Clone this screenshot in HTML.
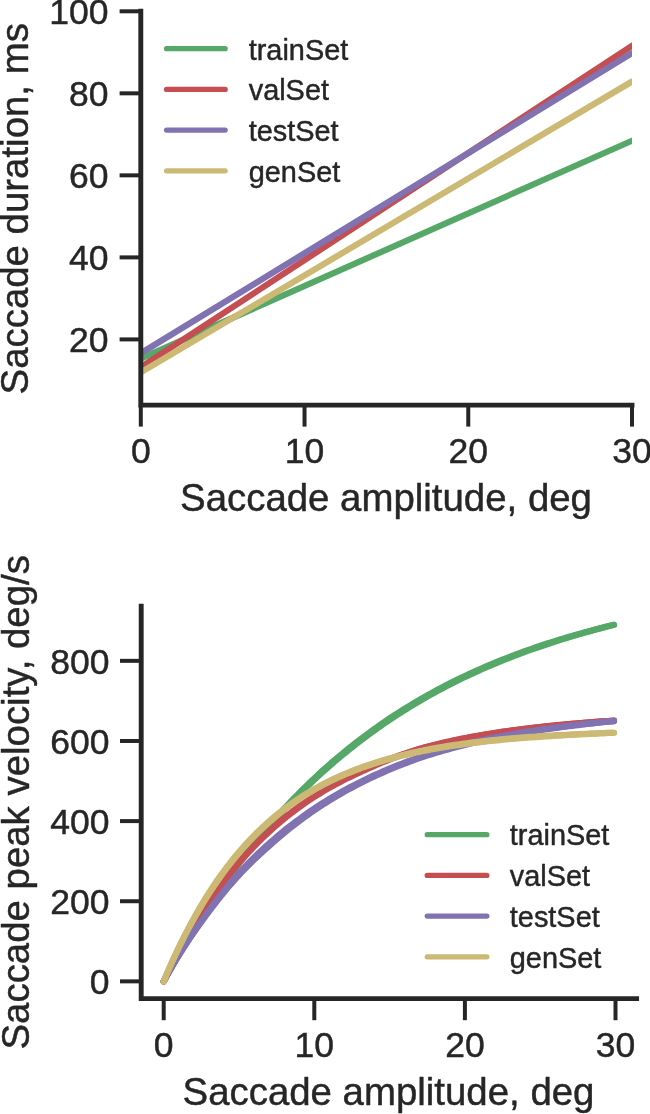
<!DOCTYPE html>
<html lang="en"><head><meta charset="utf-8"><title>Saccade main sequence</title>
<style>html,body{margin:0;padding:0;background:#fff}body{width:650px;height:1114px;overflow:hidden}svg{display:block}text{font-family:"Liberation Sans", sans-serif;fill:#262626;stroke:#262626;stroke-width:0.45px;stroke-linejoin:round}</style>
</head><body>
<svg width="650" height="1114" viewBox="0 0 650 1114">
<rect width="650" height="1114" fill="#fff"/>
<defs><clipPath id="c1"><rect x="140.80" y="11.30" width="491.20" height="393.80"/></clipPath></defs>
<g clip-path="url(#c1)" fill="none" stroke-width="6.20" stroke-linecap="round">
<path d="M140.80 358.62L632.00 140.71" stroke="#55A868"/>
<path d="M140.80 367.20L632.00 45.83" stroke="#C44E52"/>
<path d="M140.80 353.26L632.00 53.14" stroke="#8172B2"/>
<path d="M140.80 372.36L632.00 81.54" stroke="#CCB974"/>
</g>
<g fill="none" stroke="#262626" stroke-linecap="square">
<path d="M140.80 11.30V405.10H632.00" stroke-width="4.90" stroke-linejoin="miter"/>
</g>
<g fill="none" stroke="#262626" stroke-width="4.00" stroke-linecap="butt">
<path d="M119.60 339.40H140.80"/>
<path d="M119.60 257.38H140.80"/>
<path d="M119.60 175.35H140.80"/>
<path d="M119.60 93.33H140.80"/>
<path d="M119.60 11.30H140.80"/>
<path d="M140.80 405.10V426.60"/>
<path d="M304.53 405.10V426.60"/>
<path d="M468.27 405.10V426.60"/>
<path d="M632.00 405.10V426.60"/>
</g>
<g font-size="35.50" text-anchor="end">
<text x="108.6" y="352.10">20</text>
<text x="108.6" y="270.07">40</text>
<text x="108.6" y="188.05">60</text>
<text x="108.6" y="106.03">80</text>
<text x="108.6" y="24.00">100</text>
</g>
<g font-size="35.50" text-anchor="middle">
<text x="140.80" y="462.9">0</text>
<text x="304.53" y="462.9">10</text>
<text x="468.27" y="462.9">20</text>
<text x="632.00" y="462.9">30</text>
</g>
<text font-size="38.40" text-anchor="middle" x="386.0" y="511.4">Saccade amplitude, deg</text>
<text font-size="38.40" text-anchor="middle" transform="translate(28.3 208.8) rotate(-90)">Saccade duration, ms</text>
<g fill="none" stroke-width="5.30" stroke-linecap="round">
<path d="M166.55 48.70H225.15" stroke="#55A868"/>
<path d="M166.55 89.40H225.15" stroke="#C44E52"/>
<path d="M166.55 130.10H225.15" stroke="#8172B2"/>
<path d="M166.55 170.80H225.15" stroke="#CCB974"/>
</g>
<g font-size="28.90">
<text x="248.70" y="59.70">trainSet</text>
<text x="248.70" y="100.40">valSet</text>
<text x="248.70" y="141.10">testSet</text>
<text x="248.70" y="181.80">genSet</text>
</g>
<g fill="none" stroke-width="6.20" stroke-linecap="round" stroke-linejoin="round">
<path d="M163.70 981.35L166.70 975.79L169.70 970.31L172.71 964.90L175.71 959.57L178.71 954.31L181.71 949.11L184.71 943.99L187.72 938.94L190.72 933.96L193.72 929.05L196.72 924.20L199.72 919.42L202.73 914.70L205.73 910.05L208.73 905.46L211.73 900.93L214.73 896.47L217.74 892.06L220.74 887.72L223.74 883.43L226.74 879.21L229.74 875.04L232.75 870.92L235.75 866.87L238.75 862.86L241.75 858.92L244.75 855.02L247.75 851.18L250.76 847.39L253.76 843.65L256.76 839.97L259.76 836.33L262.76 832.74L265.77 829.20L268.77 825.71L271.77 822.27L274.77 818.87L277.77 815.52L280.78 812.22L283.78 808.96L286.78 805.74L289.78 802.57L292.78 799.44L295.79 796.36L298.79 793.31L301.79 790.31L304.79 787.35L307.79 784.42L310.80 781.54L313.80 778.70L316.80 775.89L319.80 773.13L322.80 770.40L325.81 767.71L328.81 765.05L331.81 762.43L334.81 759.85L337.81 757.30L340.82 754.79L343.82 752.31L346.82 749.86L349.82 747.45L352.82 745.07L355.83 742.72L358.83 740.41L361.83 738.12L364.83 735.87L367.83 733.65L370.84 731.46L373.84 729.29L376.84 727.16L379.84 725.06L382.84 722.98L385.85 720.93L388.85 718.91L391.85 716.92L394.85 714.96L397.85 713.02L400.85 711.11L403.86 709.22L406.86 707.36L409.86 705.53L412.86 703.72L415.86 701.93L418.87 700.17L421.87 698.43L424.87 696.72L427.87 695.03L430.87 693.36L433.88 691.72L436.88 690.09L439.88 688.49L442.88 686.91L445.88 685.36L448.89 683.82L451.89 682.31L454.89 680.81L457.89 679.34L460.89 677.88L463.90 676.45L466.90 675.03L469.90 673.64L472.90 672.26L475.90 670.90L478.91 669.56L481.91 668.24L484.91 666.94L487.91 665.65L490.91 664.38L493.92 663.13L496.92 661.90L499.92 660.68L502.92 659.48L505.92 658.30L508.93 657.13L511.93 655.98L514.93 654.84L517.93 653.72L520.93 652.61L523.94 651.52L526.94 650.44L529.94 649.38L532.94 648.33L535.94 647.30L538.94 646.28L541.95 645.28L544.95 644.29L547.95 643.31L550.95 642.34L553.95 641.39L556.96 640.45L559.96 639.53L562.96 638.61L565.96 637.71L568.96 636.82L571.97 635.95L574.97 635.08L577.97 634.23L580.97 633.39L583.97 632.56L586.98 631.74L589.98 630.93L592.98 630.14L595.98 629.35L598.98 628.58L601.99 627.81L604.99 627.06L607.99 626.31L610.99 625.58L613.99 624.86" stroke="#55A868"/>
<path d="M163.70 981.35L166.70 975.79L169.70 970.31L172.71 964.90L175.71 959.65L178.71 954.47L181.71 949.36L184.71 944.32L187.72 939.36L190.72 934.46L193.72 929.63L196.72 924.86L199.72 920.16L202.73 915.49L205.73 910.88L208.73 906.33L211.73 901.84L214.73 897.42L217.74 893.05L220.74 888.75L223.74 884.50L226.74 880.31L229.74 876.18L232.75 872.11L235.75 868.09L238.75 864.13L241.75 860.22L244.75 856.37L247.75 852.57L250.76 848.82L253.76 845.12L256.76 841.47L259.76 837.88L262.76 834.29L265.77 830.76L268.77 827.27L271.77 823.83L274.77 820.44L277.77 817.09L280.78 813.79L283.78 810.53L286.78 807.32L289.78 804.15L292.78 801.02L295.79 797.94L298.79 794.90L301.79 791.90L304.79 788.94L307.79 786.02L310.80 783.14L313.80 780.30L316.80 777.50L319.80 774.73L322.80 772.01L325.81 769.32L328.81 766.67L331.81 764.05L334.81 761.47L337.81 758.92L340.82 756.41L343.82 753.94L346.82 751.49L349.82 749.08L352.82 746.71L355.83 744.36L358.83 742.05L361.83 739.77L364.83 737.52L367.83 735.30L370.84 733.10L373.84 730.92L376.84 728.77L379.84 726.65L382.84 724.56L385.85 722.49L388.85 720.46L391.85 718.45L394.85 716.47L397.85 714.51L400.85 712.58L403.86 710.68L406.86 708.80L409.86 706.95L412.86 705.12L415.86 703.32L418.87 701.54L421.87 699.79L424.87 698.05L427.87 696.35L430.87 694.66L433.88 693.00L436.88 691.36L439.88 689.74L442.88 688.15L445.88 686.58L448.89 685.03L451.89 683.50L454.89 681.99L457.89 680.50L460.89 679.03L463.90 677.58L466.90 676.15L469.90 674.74L472.90 673.35L475.90 671.97L478.91 670.62L481.91 669.28L484.91 667.96L487.91 666.66L490.91 665.38L493.92 664.11L496.92 662.86L499.92 661.63L502.92 660.41L505.92 659.21L508.93 658.02L511.93 656.85L514.93 655.69L517.93 654.55L520.93 653.42L523.94 652.31L526.94 651.21L529.94 650.13L532.94 649.07L535.94 648.01L538.94 646.97L541.95 645.95L544.95 644.94L547.95 643.94L550.95 642.95L553.95 641.98L556.96 641.02L559.96 640.08L562.96 639.13L565.96 638.20L568.96 637.28L571.97 636.38L574.97 635.48L577.97 634.60L580.97 633.73L583.97 632.87L586.98 632.02L589.98 631.18L592.98 630.36L595.98 629.54L598.98 628.74L601.99 627.90L604.99 627.06L607.99 626.31L610.99 625.58L613.99 624.86" stroke="#55A868"/>
<path d="M163.70 981.35L166.70 975.15L169.70 969.10L172.71 963.18L175.71 957.41L178.71 951.76L181.71 946.25L184.71 940.86L187.72 935.60L190.72 930.46L193.72 925.43L196.72 920.53L199.72 915.73L202.73 911.05L205.73 906.48L208.73 902.01L211.73 897.64L214.73 893.38L217.74 889.21L220.74 885.14L223.74 881.17L226.74 877.28L229.74 873.49L232.75 869.78L235.75 866.16L238.75 862.62L241.75 859.17L244.75 855.79L247.75 852.49L250.76 849.27L253.76 846.12L256.76 843.05L259.76 840.05L262.76 837.11L265.77 834.24L268.77 831.44L271.77 828.71L274.77 826.04L277.77 823.43L280.78 820.88L283.78 818.38L286.78 815.95L289.78 813.57L292.78 811.25L295.79 808.98L298.79 806.77L301.79 804.61L304.79 802.52L307.79 800.47L310.80 798.48L313.80 796.52L316.80 794.62L319.80 792.76L322.80 790.94L325.81 789.17L328.81 787.43L331.81 785.74L334.81 784.09L337.81 782.47L340.82 780.89L343.82 779.35L346.82 777.85L349.82 776.38L352.82 774.95L355.83 773.55L358.83 772.18L361.83 770.79L364.83 769.41L367.83 768.05L370.84 766.72L373.84 765.42L376.84 764.15L379.84 762.91L382.84 761.69L385.85 760.50L388.85 759.34L391.85 758.20L394.85 757.09L397.85 756.00L400.85 754.94L403.86 753.90L406.86 752.88L409.86 751.88L412.86 750.91L415.86 749.95L418.87 749.02L421.87 748.15L424.87 747.34L427.87 746.54L430.87 745.76L433.88 745.00L436.88 744.25L439.88 743.53L442.88 742.82L445.88 742.12L448.89 741.45L451.89 740.79L454.89 740.14L457.89 739.51L460.89 738.90L463.90 738.30L466.90 737.71L469.90 737.14L472.90 736.58L475.90 736.04L478.91 735.50L481.91 734.98L484.91 734.48L487.91 733.98L490.91 733.50L493.92 733.03L496.92 732.56L499.92 732.11L502.92 731.68L505.92 731.25L508.93 730.83L511.93 730.42L514.93 730.02L517.93 729.63L520.93 729.25L523.94 728.86L526.94 728.49L529.94 728.12L532.94 727.76L535.94 727.41L538.94 727.06L541.95 726.73L544.95 726.40L547.95 726.08L550.95 725.77L553.95 725.46L556.96 725.16L559.96 724.87L562.96 724.59L565.96 724.31L568.96 724.04L571.97 723.77L574.97 723.51L577.97 723.26L580.97 723.01L583.97 722.77L586.98 722.53L589.98 722.30L592.98 722.08L595.98 721.86L598.98 721.64L601.99 721.43L604.99 721.23L607.99 721.03L610.99 720.83L613.99 720.64" stroke="#C44E52"/>
<path d="M163.70 981.35L166.70 975.15L169.70 969.10L172.71 963.18L175.71 957.41L178.71 951.76L181.71 946.25L184.71 940.86L187.72 935.60L190.72 930.46L193.72 925.43L196.72 920.53L199.72 915.74L202.73 911.08L205.73 906.53L208.73 902.08L211.73 897.73L214.73 893.49L217.74 889.35L220.74 885.31L223.74 881.39L226.74 877.57L229.74 873.83L232.75 870.19L235.75 866.62L238.75 863.15L241.75 859.75L244.75 856.44L247.75 853.20L250.76 850.02L253.76 846.87L256.76 843.80L259.76 840.80L262.76 837.86L265.77 834.99L268.77 832.19L271.77 829.46L274.77 826.79L277.77 824.18L280.78 821.63L283.78 819.13L286.78 816.70L289.78 814.32L292.78 812.00L295.79 809.73L298.79 807.52L301.79 805.36L304.79 803.27L307.79 801.22L310.80 799.23L313.80 797.27L316.80 795.37L319.80 793.51L322.80 791.69L325.81 789.92L328.81 788.18L331.81 786.49L334.81 784.84L337.81 783.22L340.82 781.64L343.82 780.10L346.82 778.60L349.82 777.13L352.82 775.70L355.83 774.30L358.83 772.93L361.83 771.53L364.83 770.11L367.83 768.73L370.84 767.38L373.84 766.05L376.84 764.76L379.84 763.49L382.84 762.25L385.85 761.04L388.85 759.85L391.85 758.69L394.85 757.55L397.85 756.44L400.85 755.35L403.86 754.28L406.86 753.24L409.86 752.22L412.86 751.22L415.86 750.24L418.87 749.28L421.87 748.40L424.87 747.58L427.87 746.78L430.87 746.00L433.88 745.24L436.88 744.49L439.88 743.76L442.88 743.05L445.88 742.35L448.89 741.68L451.89 741.01L454.89 740.37L457.89 739.74L460.89 739.12L463.90 738.52L466.90 737.93L469.90 737.35L472.90 736.79L475.90 736.25L478.91 735.71L481.91 735.19L484.91 734.68L487.91 734.18L490.91 733.70L493.92 733.22L496.92 732.76L499.92 732.31L502.92 731.87L505.92 731.44L508.93 731.02L511.93 730.60L514.93 730.20L517.93 729.81L520.93 729.43L523.94 729.04L526.94 728.66L529.94 728.29L532.94 727.93L535.94 727.57L538.94 727.23L541.95 726.89L544.95 726.56L547.95 726.24L550.95 725.92L553.95 725.62L556.96 725.32L559.96 725.02L562.96 724.72L565.96 724.42L568.96 724.12L571.97 723.83L574.97 723.55L577.97 723.28L580.97 723.01L583.97 722.77L586.98 722.53L589.98 722.30L592.98 722.08L595.98 721.86L598.98 721.64L601.99 721.43L604.99 721.23L607.99 721.03L610.99 720.83L613.99 720.64" stroke="#C44E52"/>
<path d="M163.70 981.35L166.70 975.95L169.70 970.66L172.71 965.48L175.71 960.40L178.71 955.42L181.71 950.55L184.71 945.77L187.72 941.09L190.72 936.51L193.72 932.02L196.72 927.62L199.72 923.31L202.73 919.09L205.73 914.93L208.73 910.75L211.73 906.66L214.73 902.65L217.74 898.71L220.74 894.86L223.74 891.08L226.74 887.38L229.74 883.75L232.75 880.19L235.75 876.70L238.75 873.28L241.75 869.99L244.75 866.83L247.75 863.73L250.76 860.69L253.76 857.72L256.76 854.80L259.76 851.95L262.76 849.15L265.77 846.41L268.77 843.73L271.77 841.08L274.77 838.47L277.77 835.91L280.78 833.40L283.78 830.94L286.78 828.53L289.78 826.17L292.78 823.86L295.79 821.60L298.79 819.38L301.79 817.18L304.79 815.02L307.79 812.90L310.80 810.82L313.80 808.78L316.80 806.78L319.80 804.83L322.80 802.91L325.81 801.03L328.81 799.19L331.81 797.38L334.81 795.61L337.81 793.88L340.82 792.18L343.82 790.51L346.82 788.88L349.82 787.28L352.82 785.72L355.83 784.18L358.83 782.67L361.83 781.18L364.83 779.70L367.83 778.25L370.84 776.82L373.84 775.43L376.84 774.06L379.84 772.72L382.84 771.41L385.85 770.12L388.85 768.85L391.85 767.61L394.85 766.40L397.85 765.21L400.85 764.04L403.86 762.89L406.86 761.77L409.86 760.66L412.86 759.58L415.86 758.53L418.87 757.51L421.87 756.51L424.87 755.53L427.87 754.57L430.87 753.62L433.88 752.70L436.88 751.79L439.88 750.91L442.88 750.04L445.88 749.18L448.89 748.34L451.89 747.52L454.89 746.72L457.89 745.93L460.89 745.16L463.90 744.40L466.90 743.66L469.90 742.93L472.90 742.21L475.90 741.51L478.91 740.83L481.91 740.16L484.91 739.51L487.91 738.87L490.91 738.25L493.92 737.64L496.92 737.04L499.92 736.45L502.92 735.88L505.92 735.32L508.93 734.76L511.93 734.22L514.93 733.69L517.93 733.17L520.93 732.66L523.94 732.16L526.94 731.67L529.94 731.19L532.94 730.72L535.94 730.25L538.94 729.80L541.95 729.36L544.95 728.92L547.95 728.50L550.95 728.08L553.95 727.67L556.96 727.27L559.96 726.87L562.96 726.48L565.96 726.11L568.96 725.74L571.97 725.38L574.97 725.03L577.97 724.68L580.97 724.35L583.97 724.02L586.98 723.69L589.98 723.38L592.98 723.07L595.98 722.76L598.98 722.47L601.99 722.17L604.99 721.89L607.99 721.61L610.99 721.33L613.99 721.06" stroke="#8172B2"/>
<path d="M163.70 981.35L166.70 975.95L169.70 970.66L172.71 965.50L175.71 960.51L178.71 955.63L181.71 950.85L184.71 946.16L187.72 941.58L190.72 937.08L193.72 932.69L196.72 928.39L199.72 924.18L202.73 920.05L205.73 915.98L208.73 911.90L211.73 907.90L214.73 903.99L217.74 900.15L220.74 896.39L223.74 892.71L226.74 889.10L229.74 885.57L232.75 882.10L235.75 878.71L238.75 875.39L241.75 872.17L244.75 869.06L247.75 866.01L250.76 863.02L253.76 860.09L256.76 857.23L259.76 854.43L262.76 851.68L265.77 848.99L268.77 846.36L271.77 843.69L274.77 841.02L277.77 838.40L280.78 835.83L283.78 833.31L286.78 830.85L289.78 828.43L292.78 826.05L295.79 823.73L298.79 821.45L301.79 819.21L304.79 817.01L307.79 814.86L310.80 812.74L313.80 810.67L316.80 808.64L319.80 806.65L322.80 804.69L325.81 802.78L328.81 800.90L331.81 799.06L334.81 797.26L337.81 795.49L340.82 793.75L343.82 792.05L346.82 790.39L349.82 788.75L352.82 787.15L355.83 785.58L358.83 784.04L361.83 782.51L364.83 781.01L367.83 779.53L370.84 778.08L373.84 776.66L376.84 775.27L379.84 773.91L382.84 772.57L385.85 771.25L388.85 769.96L391.85 768.70L394.85 767.46L397.85 766.24L400.85 765.05L403.86 763.87L406.86 762.73L409.86 761.60L412.86 760.49L415.86 759.41L418.87 758.37L421.87 757.35L424.87 756.37L427.87 755.40L430.87 754.45L433.88 753.52L436.88 752.61L439.88 751.72L442.88 750.84L445.88 749.98L448.89 749.14L451.89 748.31L454.89 747.50L457.89 746.71L460.89 745.93L463.90 745.16L466.90 744.41L469.90 743.68L472.90 742.96L475.90 742.25L478.91 741.56L481.91 740.89L484.91 740.23L487.91 739.59L490.91 738.96L493.92 738.34L496.92 737.74L499.92 737.15L502.92 736.56L505.92 735.99L508.93 735.43L511.93 734.89L514.93 734.35L517.93 733.82L520.93 733.31L523.94 732.80L526.94 732.30L529.94 731.82L532.94 731.34L535.94 730.87L538.94 730.41L541.95 729.96L544.95 729.52L547.95 729.09L550.95 728.67L553.95 728.25L556.96 727.84L559.96 727.44L562.96 727.05L565.96 726.66L568.96 726.29L571.97 725.90L574.97 725.51L577.97 725.13L580.97 724.75L583.97 724.38L586.98 724.02L589.98 723.66L592.98 723.31L595.98 722.97L598.98 722.63L601.99 722.27L604.99 721.90L607.99 721.61L610.99 721.33L613.99 721.06" stroke="#8172B2"/>
<path d="M163.70 981.35L166.70 974.22L169.70 967.28L172.71 960.55L175.71 954.00L178.71 947.64L181.71 941.46L184.71 935.45L187.72 929.62L190.72 923.95L193.72 918.44L196.72 913.08L199.72 907.88L202.73 902.83L205.73 897.92L208.73 893.14L211.73 888.51L214.73 884.00L217.74 879.62L220.74 875.37L223.74 871.23L226.74 867.22L229.74 863.31L232.75 859.52L235.75 855.83L238.75 852.25L241.75 848.77L244.75 845.39L247.75 842.11L250.76 838.91L253.76 835.81L256.76 832.80L259.76 829.87L262.76 827.02L265.77 824.26L268.77 821.57L271.77 818.96L274.77 816.42L277.77 813.96L280.78 811.56L283.78 809.24L286.78 806.97L289.78 804.78L292.78 802.64L295.79 800.57L298.79 798.55L301.79 796.59L304.79 794.69L307.79 792.84L310.80 791.04L313.80 789.29L316.80 787.60L319.80 785.95L322.80 784.34L325.81 782.79L328.81 781.28L331.81 779.81L334.81 778.38L337.81 776.99L340.82 775.64L343.82 774.33L346.82 773.06L349.82 771.82L352.82 770.62L355.83 769.45L358.83 768.31L361.83 767.21L364.83 766.14L367.83 765.10L370.84 764.09L373.84 763.10L376.84 762.15L379.84 761.22L382.84 760.32L385.85 759.44L388.85 758.59L391.85 757.76L394.85 756.96L397.85 756.17L400.85 755.42L403.86 754.68L406.86 753.96L409.86 753.26L412.86 752.59L415.86 751.93L418.87 751.29L421.87 750.67L424.87 750.07L427.87 749.48L430.87 748.91L433.88 748.36L436.88 747.82L439.88 747.30L442.88 746.79L445.88 746.29L448.89 745.81L451.89 745.35L454.89 744.90L457.89 744.46L460.89 744.03L463.90 743.61L466.90 743.21L469.90 742.82L472.90 742.44L475.90 742.07L478.91 741.71L481.91 741.36L484.91 741.02L487.91 740.69L490.91 740.37L493.92 740.05L496.92 739.75L499.92 739.46L502.92 739.17L505.92 738.89L508.93 738.62L511.93 738.36L514.93 738.11L517.93 737.86L520.93 737.62L523.94 737.38L526.94 737.16L529.94 736.94L532.94 736.72L535.94 736.51L538.94 736.31L541.95 736.11L544.95 735.92L547.95 735.74L550.95 735.55L553.95 735.38L556.96 735.21L559.96 735.04L562.96 734.88L565.96 734.73L568.96 734.57L571.97 734.43L574.97 734.28L577.97 734.14L580.97 734.01L583.97 733.88L586.98 733.75L589.98 733.62L592.98 733.50L595.98 733.39L598.98 733.27L601.99 733.16L604.99 733.05L607.99 732.95L610.99 732.85L613.99 732.75" stroke="#CCB974"/>
<path d="M163.70 981.35L166.70 974.22L169.70 967.28L172.71 960.59L175.71 954.15L178.71 947.89L181.71 941.80L184.71 935.90L187.72 930.16L190.72 924.59L193.72 919.18L196.72 913.93L199.72 908.82L202.73 903.78L205.73 898.88L208.73 894.12L211.73 889.49L214.73 884.99L217.74 880.62L220.74 876.37L223.74 872.24L226.74 868.23L229.74 864.34L232.75 860.55L235.75 856.87L238.75 853.30L241.75 849.81L244.75 846.42L247.75 843.12L250.76 839.91L253.76 836.79L256.76 833.76L259.76 830.82L262.76 827.96L265.77 825.18L268.77 822.48L271.77 819.85L274.77 817.30L277.77 814.82L280.78 812.41L283.78 810.07L286.78 807.79L289.78 805.58L292.78 803.43L295.79 801.34L298.79 799.31L301.79 797.34L304.79 795.43L307.79 793.58L310.80 791.78L313.80 790.03L316.80 788.33L319.80 786.68L322.80 785.08L325.81 783.52L328.81 782.00L331.81 780.53L334.81 779.10L337.81 777.71L340.82 776.36L343.82 775.05L346.82 773.77L349.82 772.53L352.82 771.33L355.83 770.16L358.83 769.02L361.83 767.91L364.83 766.84L367.83 765.80L370.84 764.78L373.84 763.80L376.84 762.84L379.84 761.91L382.84 761.00L385.85 760.12L388.85 759.27L391.85 758.44L394.85 757.63L397.85 756.85L400.85 756.09L403.86 755.35L406.86 754.63L409.86 753.93L412.86 753.25L415.86 752.59L418.87 751.95L421.87 751.33L424.87 750.72L427.87 750.13L430.87 749.56L433.88 749.00L436.88 748.46L439.88 747.94L442.88 747.43L445.88 746.93L448.89 746.45L451.89 745.98L454.89 745.53L457.89 745.08L460.89 744.65L463.90 744.24L466.90 743.83L469.90 743.44L472.90 743.05L475.90 742.68L478.91 742.32L481.91 741.97L484.91 741.62L487.91 741.29L490.91 740.97L493.92 740.65L496.92 740.35L499.92 740.05L502.92 739.76L505.92 739.48L508.93 739.21L511.93 738.95L514.93 738.69L517.93 738.44L520.93 738.20L523.94 737.96L526.94 737.73L529.94 737.51L532.94 737.29L535.94 737.08L538.94 736.88L541.95 736.68L544.95 736.48L547.95 736.29L550.95 736.11L553.95 735.93L556.96 735.76L559.96 735.59L562.96 735.40L565.96 735.22L568.96 735.03L571.97 734.86L574.97 734.68L577.97 734.51L580.97 734.35L583.97 734.19L586.98 734.03L589.98 733.87L592.98 733.72L595.98 733.58L598.98 733.43L601.99 733.25L604.99 733.06L607.99 732.95L610.99 732.85L613.99 732.75" stroke="#CCB974"/>
</g>
<g fill="none" stroke="#262626" stroke-linecap="square">
<path d="M141.20 606.20V998.60H636.60" stroke-width="4.90" stroke-linejoin="miter"/>
</g>
<g fill="none" stroke="#262626" stroke-width="4.00" stroke-linecap="butt">
<path d="M120.00 981.35H141.20"/>
<path d="M120.00 901.23H141.20"/>
<path d="M120.00 821.10H141.20"/>
<path d="M120.00 740.98H141.20"/>
<path d="M120.00 660.85H141.20"/>
<path d="M163.70 998.60V1020.20"/>
<path d="M314.30 998.60V1020.20"/>
<path d="M464.90 998.60V1020.20"/>
<path d="M615.50 998.60V1020.20"/>
</g>
<g font-size="35.50" text-anchor="end">
<text x="109.6" y="994.20">0</text>
<text x="109.6" y="914.08">200</text>
<text x="109.6" y="833.95">400</text>
<text x="109.6" y="753.83">600</text>
<text x="109.6" y="673.70">800</text>
</g>
<g font-size="35.50" text-anchor="middle">
<text x="163.70" y="1057.0">0</text>
<text x="314.30" y="1057.0">10</text>
<text x="464.90" y="1057.0">20</text>
<text x="615.50" y="1057.0">30</text>
</g>
<text font-size="38.40" text-anchor="middle" x="388.5" y="1105.0">Saccade amplitude, deg</text>
<text font-size="38.40" text-anchor="middle" transform="translate(28.5 802.3) rotate(-90)">Saccade peak velocity, deg/s</text>
<g fill="none" stroke-width="5.30" stroke-linecap="round">
<path d="M427.25 834.70H486.85" stroke="#55A868"/>
<path d="M427.25 875.40H486.85" stroke="#C44E52"/>
<path d="M427.25 916.10H486.85" stroke="#8172B2"/>
<path d="M427.25 956.80H486.85" stroke="#CCB974"/>
</g>
<g font-size="28.90">
<text x="509.80" y="845.40">trainSet</text>
<text x="509.80" y="886.10">valSet</text>
<text x="509.80" y="926.80">testSet</text>
<text x="509.80" y="967.50">genSet</text>
</g>
</svg></body></html>
